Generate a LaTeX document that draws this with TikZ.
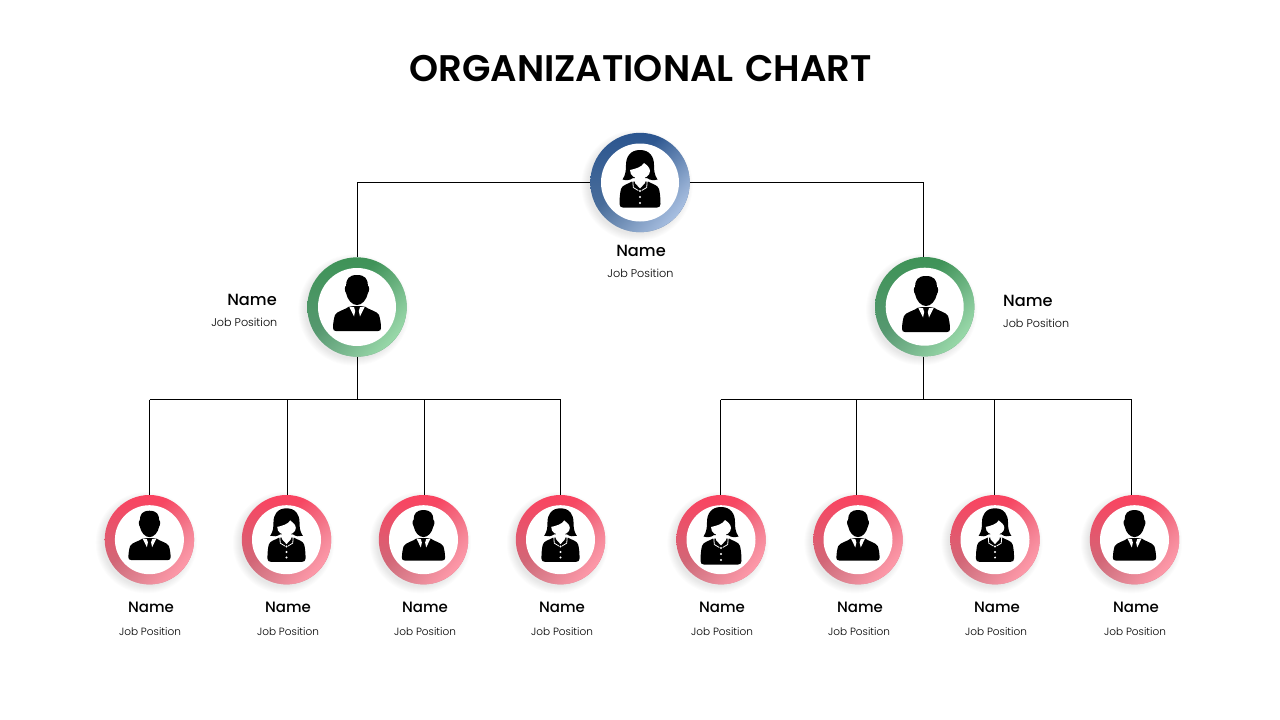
\documentclass[tikz,border=0pt]{standalone}
\usepackage{fontspec}
\setmainfont{Poppins}
\newfontfamily\namefont{Poppins Medium}
\newfontfamily\jobfont{Poppins Light}
\newfontfamily\titlefont{Poppins SemiBold}
\usetikzlibrary{fadings}
\definecolor{bluetop}{HTML}{2B558F}\definecolor{bluelow}{HTML}{54769F}\definecolor{bluelight}{HTML}{A9C0E2}
\definecolor{greentop}{HTML}{3E9357}\definecolor{greenlow}{HTML}{5E9A78}\definecolor{greenlight}{HTML}{9ADAAA}
\definecolor{redtop}{HTML}{FB4360}\definecolor{redlow}{HTML}{C4737F}\definecolor{redlight}{HTML}{FF9AAA}
\pgfdeclareverticalshading{ringfadeshade}{100bp}{color(0bp)=(white); color(25bp)=(white); color(42bp)=(black!55!white); color(58bp)=(black); color(100bp)=(black)}
\pgfdeclarefading{ringfade}{\pgfuseshading{ringfadeshade}}
\tikzset{
  conn/.style={draw=black,line width=0.9pt},
  ringbody/.style={circle,inner sep=0pt,minimum size=#1},
  titletext/.style={font=\titlefont\fontsize{37}{40}\selectfont,anchor=base,inner sep=0pt},
  nametext/.style={font=\namefont\fontsize{16.2}{18}\selectfont,anchor=base,inner sep=0pt},
  jobtext/.style={font=\jobfont\fontsize{11.2}{14}\selectfont,anchor=base,inner sep=0pt},
  smallname/.style={font=\namefont\fontsize{15}{18}\selectfont,anchor=base,inner sep=0pt},
  smalljob/.style={font=\jobfont\fontsize{10.5}{14}\selectfont,anchor=base,inner sep=0pt},
  man/.pic={
    \fill[black] (0,-31) .. controls (8,-31) and (11,-27) .. (11,-20)
      .. controls (12.5,-20) and (12.5,-15) .. (11,-13)
      .. controls (9.5,-6) and (5,-1) .. (0,-1)
      .. controls (-5,-1) and (-9.5,-6) .. (-11,-13)
      .. controls (-12.5,-15) and (-12.5,-20) .. (-11,-20)
      .. controls (-11,-27) and (-8,-31) .. (0,-31) -- cycle;
    \fill[black] (-7,0) .. controls (-12,4) and (-20,5) .. (-22,9)
      .. controls (-23,12) and (-24,17) .. (-24,22)
      .. controls (-24,24) and (-23,25) .. (-21,25) -- (21,25)
      .. controls (23,25) and (24,24) .. (24,22)
      .. controls (24,17) and (23,12) .. (22,9)
      .. controls (20,5) and (12,4) .. (7,0) -- cycle;
    \fill[white] (-8,0.2) -- (-3,1.2) -- (-1.8,5) -- (-3,10.5) -- cycle;
    \fill[white] (8,0.2) -- (3,1.2) -- (1.8,5) -- (3,10.5) -- cycle;
  },
  woman/.pic={
    \fill[black] (0,-33) .. controls (10,-33) and (14,-26) .. (14,-18)
      .. controls (14,-12) and (14.5,-8) .. (17.5,-3.5)
      .. controls (14,-2.5) and (10,-2.5) .. (7,-5) -- (-7,-5)
      .. controls (-10,-2.5) and (-14,-2.5) .. (-17.5,-3.5)
      .. controls (-14.5,-8) and (-14,-12) .. (-14,-18)
      .. controls (-14,-26) and (-10,-33) .. (0,-33) -- cycle;
    \fill[black] (-8,-1.5) .. controls (-12,1) and (-18,2) .. (-19,6)
      .. controls (-20,10) and (-20.5,15) .. (-20.5,21)
      .. controls (-20.5,23.5) and (-19,24.5) .. (-17,24.5) -- (17,24.5)
      .. controls (19,24.5) and (20.5,23.5) .. (20.5,21)
      .. controls (20.5,15) and (20,10) .. (19,6)
      .. controls (18,2) and (12,1) .. (8,-1.5) -- cycle;
    \fill[white] (-10,-13) .. controls (-5,-14) and (2,-16) .. (4,-20)
      .. controls (7,-18) and (10,-15) .. (10,-12)
      .. controls (10,-7) and (5,-4.5) .. (0,-4.5)
      .. controls (-5,-4.5) and (-10,-7) .. (-10,-13) -- cycle;
    \fill[white] (-5,-6) -- (5,-6) -- (5,0) -- (0,5.5) -- (-5,0) -- cycle;
    \draw[white,line width=0.8pt,line join=round] (-7.2,-2) -- (-6.7,4.5) -- (-1.7,7.5);
    \draw[white,line width=0.8pt,line join=round] (7.2,-2) -- (6.7,4.5) -- (1.7,7.5);
    \fill[white] (0,8) circle[radius=1.2] (0,14) circle[radius=1.2] (0,20) circle[radius=1.2];
  }
}
% #1 name, #2 position, #3 outer radius, #4 inner radius, #5 colour stem
\newcommand{\RingNode}[5]{
  \begin{scope}[shift={(#2)}]
    \foreach \k in {0,1,...,7}{
      \fill[black,opacity=0.012] (-3,3) circle[radius={#3+6-\k}];
    }
  \end{scope}
  \node[ringbody=#3*2pt,top color=#5top,bottom color=#5low] (#1) at (#2) {};
  \fill[#5light,path fading=ringfade,fading angle=50] (#1.center) circle[radius=#3];
  \fill[white] (#1.center) circle[radius=#4];
}
\begin{document}
\begin{tikzpicture}[x=1pt,y=-1pt]
\path[use as bounding box,fill=white] (0,0) rectangle (1280,720);

\node[titletext] (title) at (640.7,81) {ORGANIZATIONAL\hspace{3pt} CHART};

\RingNode{top}{640,182.5}{49.7}{39}{blue}
\RingNode{lm}{357,307}{49.7}{39}{green}
\RingNode{rm}{924.7,306.7}{49.7}{39}{green}
\RingNode{a}{149.4,539.7}{44.7}{34.5}{red}
\RingNode{b}{286.5,539.7}{44.7}{34.5}{red}
\RingNode{c}{423.5,539.7}{44.7}{34.5}{red}
\RingNode{d}{560.5,539.7}{44.7}{34.5}{red}
\RingNode{e}{721,539.7}{44.7}{34.5}{red}
\RingNode{f}{858,539.7}{44.7}{34.5}{red}
\RingNode{g}{995,539.7}{44.7}{34.5}{red}
\RingNode{h}{1134.5,539.7}{44.7}{34.5}{red}

\coordinate (rtee) at (923.5,182.5);
\coordinate (lbus) at (357,399.5);
\coordinate (rbus) at (923.5,399.5);
\coordinate (da) at (149.5,399.5);
\coordinate (db) at (287.5,399.5);
\coordinate (dc) at (424.5,399.5);
\coordinate (dd) at (560.5,399.5);
\coordinate (de) at (720.5,399.5);
\coordinate (df) at (856.5,399.5);
\coordinate (dg) at (994.5,399.5);
\coordinate (dh) at (1131.5,399.5);

\draw[conn] (top.west) -| (lm.north);
\draw[conn] (top.east) -- (rtee) -- (rtee |- rm.north);
\draw[conn] (lm.south) -- (lbus);
\draw[conn] (rtee |- rm.south) -- (rbus);
\draw[conn] (da) -- (dd);
\draw[conn] (de) -- (dh);
\draw[conn] (da) -- (da |- a.north);
\draw[conn] (db) -- (db |- b.north);
\draw[conn] (dc) -- (dc |- c.north);
\draw[conn] (dd) -- (dd |- d.north);
\draw[conn] (de) -- (de |- e.north);
\draw[conn] (df) -- (df |- f.north);
\draw[conn] (dg) -- (dg |- g.north);
\draw[conn] (dh) -- (dh |- h.north);

\pic (itop) at (640,183) {woman};
\pic (ilm) at (357,306) {man};
\pic (irm) at (926,307) {man};
\pic[scale=0.88] (ia) at (149.5,538) {man};
\pic[scale=0.93] (ib) at (286.5,539) {woman};
\pic[scale=0.9] (ic) at (423.5,538) {man};
\pic[scale=0.93] (id) at (560.5,539) {woman};
\pic (ie) at (721,540) {woman};
\pic[scale=0.9] (if) at (858,538) {man};
\pic[scale=0.93] (ig) at (995,539) {woman};
\pic[scale=0.9] (ih) at (1134.5,538) {man};

\node[nametext] (ntop) at (641,256) {Name};
\node[jobtext] (jtop) at (640.5,277) {Job Position};
\node[nametext,anchor=base east] (nlm) at (277,305) {Name};
\node[jobtext,anchor=base east] (jlm) at (277.5,326) {Job Position};
\node[nametext,anchor=base west] (nrm) at (1003,306) {Name};
\node[jobtext,anchor=base west] (jrm) at (1003,327) {Job Position};

\node[smallname] (na) at (151,612) {Name};
\node[smallname] (nb) at (288,612) {Name};
\node[smallname] (nc) at (425,612) {Name};
\node[smallname] (nd) at (562,612) {Name};
\node[smallname] (ne) at (722,612) {Name};
\node[smallname] (nf) at (860,612) {Name};
\node[smallname] (ng) at (997,612) {Name};
\node[smallname] (nh) at (1136,612) {Name};
\node[smalljob] (ja) at (150,635) {Job Position};
\node[smalljob] (jb) at (288,635) {Job Position};
\node[smalljob] (jc) at (425,635) {Job Position};
\node[smalljob] (jd) at (562,635) {Job Position};
\node[smalljob] (je) at (722,635) {Job Position};
\node[smalljob] (jf) at (859,635) {Job Position};
\node[smalljob] (jg) at (996,635) {Job Position};
\node[smalljob] (jh) at (1135,635) {Job Position};
\end{tikzpicture}
\end{document}
